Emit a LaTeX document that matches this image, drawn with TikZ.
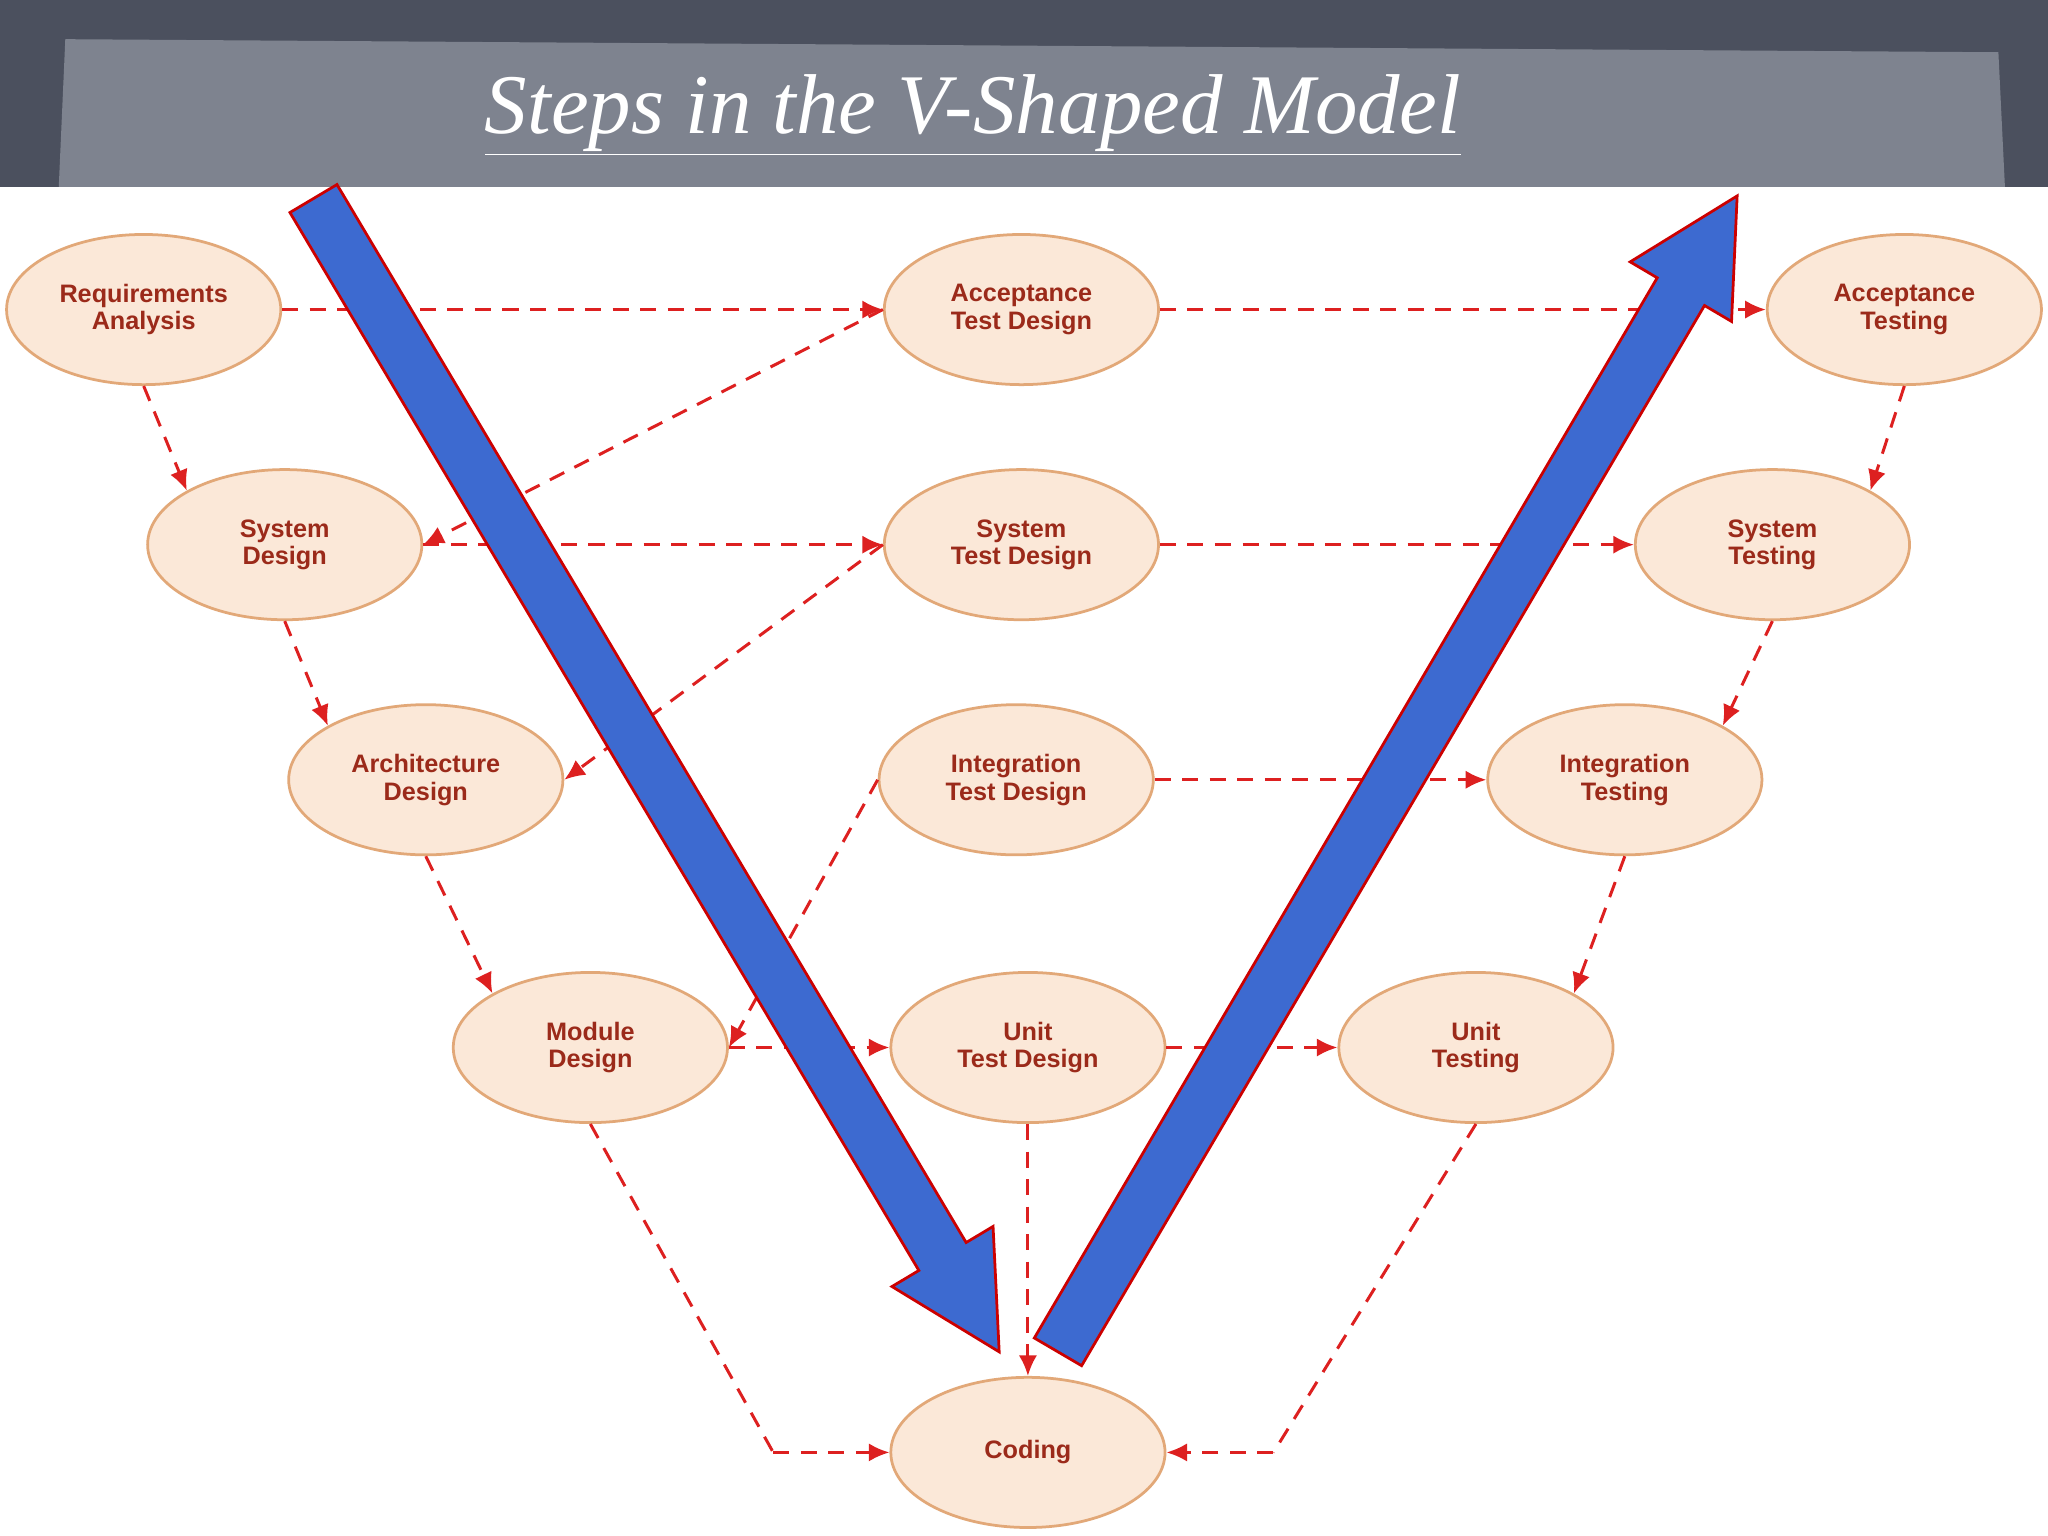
\documentclass[tikz,border=0pt]{standalone}
\usepackage{fontspec}
\setmainfont{Liberation Sans}
\newfontfamily\titlefont{Liberation Serif}
\usetikzlibrary{shapes.geometric,arrows.meta}
\definecolor{ellfill}{HTML}{FBE8D8}
\definecolor{elldraw}{HTML}{E2A878}
\definecolor{txtred}{HTML}{9B2A1A}
\definecolor{dashred}{HTML}{DD2020}
\definecolor{vblue}{HTML}{3D6AD0}
\definecolor{bgdark}{HTML}{4B505E}
\definecolor{bgpaper}{HTML}{7E838F}
\begin{document}
\begin{tikzpicture}[x=0.02cm,y=-0.02cm,
  phase/.style={ellipse, minimum width=4.2cm, minimum height=2.3cm, fill=ellfill, draw=elldraw, line width=1.2pt, text=txtred, font=\bfseries\fontsize{11}{12}\selectfont, align=center, inner sep=0pt},
  dep/.style={dashed, dash pattern=on 7pt off 5pt, draw=dashred, line width=1.3pt, -{Latex[length=9pt,width=8pt]}},
  depline/.style={dashed, dash pattern=on 7pt off 5pt, draw=dashred, line width=1.3pt},
  varrow/.style={draw=red!80!black, fill=vblue, line width=1.2pt, line join=miter}]
\useasboundingbox (0,0) rectangle (1568,1176);
\fill[bgdark] (0,0) rectangle (1568,143);
\fill[bgpaper] (50,30) -- (1530,40) -- (1535,143) -- (45,143) -- cycle;
\fill[white] (0,143) rectangle (1568,1176);
\node[text=white, font=\titlefont\itshape\fontsize{37}{40}\selectfont] (title) at (745,88) {\underline{Steps in the V-Shaped Model}};

\node[phase] (ra) at (110,237) {Requirements\\Analysis};
\node[phase] (atd) at (782,237) {Acceptance\\Test Design};
\node[phase] (at) at (1458,237) {Acceptance\\Testing};
\node[phase] (sd) at (218,417) {System\\Design};
\node[phase] (std) at (782,417) {System\\Test Design};
\node[phase] (st) at (1357,417) {System\\Testing};
\node[phase] (ad) at (326,597) {Architecture\\Design};
\node[phase] (itd) at (778,597) {Integration\\Test Design};
\node[phase] (it) at (1244,597) {Integration\\Testing};
\node[phase] (md) at (452,802) {Module\\Design};
\node[phase] (utd) at (787,802) {Unit\\Test Design};
\node[phase] (ut) at (1130,802) {Unit\\Testing};
\node[phase] (cod) at (787,1112) {Coding};

\draw[dep] (ra.east) -- (atd.west);
\draw[dep] (atd.east) -- (at.west);
\draw[dep] (atd.west) -- (sd.east);
\draw[dep] (sd.east) -- (std.west);
\draw[dep] (std.east) -- (st.west);
\draw[dep] (std.west) -- (ad.east);
\draw[dep] (itd.east) -- (it.west);
\draw[dep] (itd.west) -- (md.east);
\draw[dep] (md.east) -- (utd.west);
\draw[dep] (utd.east) -- (ut.west);
\draw[dep] (utd.south) -- (cod.north);
\draw[dep] (ra.south) -- (sd.north west);
\draw[dep] (sd.south) -- (ad.north west);
\draw[dep] (ad.south) -- (md.north west);
\draw[dep] (at.south) -- (st.north east);
\draw[dep] (st.south) -- (it.north east);
\draw[dep] (it.south) -- (ut.north east);
\coordinate (c1) at (592,1112);
\coordinate (c2) at (975,1112);
\draw[depline] (md.south) -- (c1);
\draw[dep] (c1) -- (cod.west);
\draw[depline] (ut.south) -- (c2);
\draw[dep] (c2) -- (cod.east);

\draw[varrow] (222,162.7) -- (703.5,972.7) -- (682.9,985) -- (765,1035) -- (760.3,939) -- (739.7,951.3) -- (258,141.3) -- cycle;
\draw[varrow] (828.1,1045.6) -- (1305,233.9) -- (1325.7,246.1) -- (1330,150) -- (1248.1,200.5) -- (1268.8,212.7) -- (791.9,1024.4) -- cycle;
\end{tikzpicture}
\end{document}
